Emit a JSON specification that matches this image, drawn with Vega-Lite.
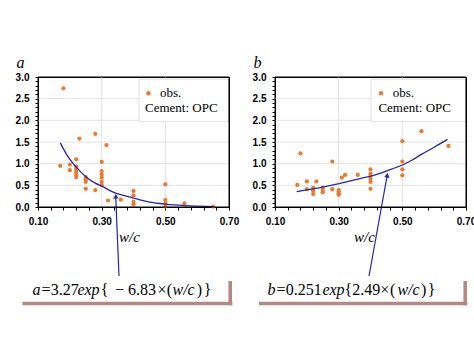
{
  "$schema": "https://vega.github.io/schema/vega-lite/v6.json",
  "padding": {"left": 14, "top": 54, "right": 0, "bottom": 0},
  "background": "white",
  "bounds": "flush",
  "spacing": 46,
  "config": {
    "view": {"stroke": "black", "strokeWidth": 1},
    "axis": {
      "labelFont": "Liberation Sans",
      "labelFontWeight": "bold",
      "labelFontSize": 10,
      "labelColor": "black",
      "labelOverlap": false,
      "labelFlush": false,
      "tickColor": "black",
      "tickSize": 3,
      "tickWidth": 1,
      "domain": false,
      "grid": false,
      "titleFont": "Liberation Serif",
      "titleFontStyle": "italic",
      "titleFontWeight": "normal",
      "titleColor": "black"
    }
  },
  "datasets": {
    "frame": [{"wc": 0.1, "wc2": 0.7, "v": 0, "v2": 3}],
    "grid": [
      {"wc": 0.3, "v": 0, "wc2": 0.3, "v2": 3},
      {"wc": 0.5, "v": 0, "wc2": 0.5, "v2": 3},
      {"wc": 0.1, "v": 0.5, "wc2": 0.7, "v2": 0.5},
      {"wc": 0.1, "v": 1.0, "wc2": 0.7, "v2": 1.0},
      {"wc": 0.1, "v": 1.5, "wc2": 0.7, "v2": 1.5},
      {"wc": 0.1, "v": 2.0, "wc2": 0.7, "v2": 2.0},
      {"wc": 0.1, "v": 2.5, "wc2": 0.7, "v2": 2.5}
    ],
    "obsA": [
      {"wc": 0.18, "v": 2.74}, {"wc": 0.17, "v": 0.95}, {"wc": 0.2, "v": 0.98}, {"wc": 0.2, "v": 0.85},
      {"wc": 0.22, "v": 1.1}, {"wc": 0.22, "v": 0.93}, {"wc": 0.22, "v": 0.87}, {"wc": 0.22, "v": 0.81},
      {"wc": 0.22, "v": 0.75}, {"wc": 0.22, "v": 0.69}, {"wc": 0.23, "v": 1.58},
      {"wc": 0.25, "v": 0.69}, {"wc": 0.25, "v": 0.64}, {"wc": 0.25, "v": 0.58}, {"wc": 0.25, "v": 0.42},
      {"wc": 0.28, "v": 1.69}, {"wc": 0.28, "v": 0.39},
      {"wc": 0.3, "v": 1.04}, {"wc": 0.3, "v": 0.83}, {"wc": 0.3, "v": 0.75}, {"wc": 0.3, "v": 0.68},
      {"wc": 0.3, "v": 0.58}, {"wc": 0.3, "v": 0.51},
      {"wc": 0.315, "v": 1.43}, {"wc": 0.32, "v": 0.15}, {"wc": 0.36, "v": 0.17},
      {"wc": 0.4, "v": 0.37}, {"wc": 0.4, "v": 0.27}, {"wc": 0.4, "v": 0.12}, {"wc": 0.4, "v": 0.06},
      {"wc": 0.5, "v": 0.52}, {"wc": 0.5, "v": 0.16}, {"wc": 0.5, "v": 0.085}, {"wc": 0.5, "v": 0.01},
      {"wc": 0.56, "v": 0.085}, {"wc": 0.65, "v": 0.01}
    ],
    "fitA": [
      {"wc": 0.17, "v": 1.48}, {"wc": 0.19, "v": 1.21}, {"wc": 0.219, "v": 0.93}, {"wc": 0.25, "v": 0.7},
      {"wc": 0.28, "v": 0.55}, {"wc": 0.3, "v": 0.48}, {"wc": 0.344, "v": 0.32}, {"wc": 0.39, "v": 0.23},
      {"wc": 0.44, "v": 0.13}, {"wc": 0.5, "v": 0.065}, {"wc": 0.56, "v": 0.032}, {"wc": 0.6, "v": 0.02},
      {"wc": 0.65, "v": 0.01}
    ],
    "obsB": [
      {"wc": 0.17, "v": 0.51}, {"wc": 0.18, "v": 1.24}, {"wc": 0.2, "v": 0.59}, {"wc": 0.2, "v": 0.41},
      {"wc": 0.22, "v": 0.44}, {"wc": 0.22, "v": 0.37}, {"wc": 0.22, "v": 0.3}, {"wc": 0.23, "v": 0.59},
      {"wc": 0.25, "v": 0.45}, {"wc": 0.25, "v": 0.39}, {"wc": 0.25, "v": 0.34},
      {"wc": 0.28, "v": 1.05}, {"wc": 0.28, "v": 0.41},
      {"wc": 0.3, "v": 0.39}, {"wc": 0.3, "v": 0.35}, {"wc": 0.3, "v": 0.31}, {"wc": 0.3, "v": 0.28},
      {"wc": 0.31, "v": 0.68}, {"wc": 0.32, "v": 0.74}, {"wc": 0.36, "v": 0.74},
      {"wc": 0.4, "v": 0.87}, {"wc": 0.4, "v": 0.77}, {"wc": 0.4, "v": 0.72}, {"wc": 0.4, "v": 0.65},
      {"wc": 0.4, "v": 0.58}, {"wc": 0.4, "v": 0.42},
      {"wc": 0.5, "v": 1.52}, {"wc": 0.5, "v": 1.05}, {"wc": 0.5, "v": 0.87}, {"wc": 0.5, "v": 0.73},
      {"wc": 0.56, "v": 1.75}, {"wc": 0.645, "v": 1.41}
    ],
    "fitB": [
      {"wc": 0.168, "v": 0.355}, {"wc": 0.2, "v": 0.395}, {"wc": 0.25, "v": 0.46}, {"wc": 0.29, "v": 0.52},
      {"wc": 0.33, "v": 0.59}, {"wc": 0.37, "v": 0.66}, {"wc": 0.41, "v": 0.73}, {"wc": 0.454, "v": 0.84},
      {"wc": 0.5, "v": 0.97}, {"wc": 0.53, "v": 1.08}, {"wc": 0.56, "v": 1.215}, {"wc": 0.6, "v": 1.38},
      {"wc": 0.642, "v": 1.56}
    ],
    "eqA": [
      {"wc": 0.0824, "v": -2.031, "t": "a", "part": "var"},
      {"wc": 0.1107, "v": -2.031, "t": "=", "part": "num"},
      {"wc": 0.1399, "v": -2.031, "t": "3.27", "part": "num"},
      {"wc": 0.2238, "v": -2.031, "t": "exp", "part": "var"},
      {"wc": 0.297, "v": -2.031, "t": "{", "part": "num"},
      {"wc": 0.3425, "v": -2.031, "t": "−", "part": "num"},
      {"wc": 0.3827, "v": -2.031, "t": "6.83", "part": "num"},
      {"wc": 0.4751, "v": -2.031, "t": "×", "part": "num"},
      {"wc": 0.5043, "v": -2.031, "t": "(", "part": "num"},
      {"wc": 0.5225, "v": -2.031, "t": "w/c", "part": "var"},
      {"wc": 0.5985, "v": -2.031, "t": ")", "part": "num"},
      {"wc": 0.621, "v": -2.031, "t": "}", "part": "num"}
    ],
    "eqB": [
      {"wc": 0.0761, "v": -2.031, "t": "b", "part": "var"},
      {"wc": 0.1044, "v": -2.031, "t": "=", "part": "num"},
      {"wc": 0.1336, "v": -2.031, "t": "0.251", "part": "num"},
      {"wc": 0.2489, "v": -2.031, "t": "exp", "part": "var"},
      {"wc": 0.318, "v": -2.031, "t": "{", "part": "num"},
      {"wc": 0.3425, "v": -2.031, "t": "2.49", "part": "num"},
      {"wc": 0.431, "v": -2.031, "t": "×", "part": "num"},
      {"wc": 0.4615, "v": -2.031, "t": "(", "part": "num"},
      {"wc": 0.4845, "v": -2.031, "t": "w/c", "part": "var"},
      {"wc": 0.5585, "v": -2.031, "t": ")", "part": "num"},
      {"wc": 0.58, "v": -2.031, "t": "}", "part": "num"}
    ],
    "legA": [
      {"wc": 0.4833, "v": 2.546, "t": "obs."},
      {"wc": 0.4361, "v": 2.199, "t": "Cement: OPC"}
    ],
    "legB": [
      {"wc": 0.4697, "v": 2.546, "t": "obs."},
      {"wc": 0.4248, "v": 2.199, "t": "Cement: OPC"}
    ],
    "dotA": [{"wc": 0.4468, "v": 2.624}],
    "dotB": [{"wc": 0.433, "v": 2.624}],
    "boxA": [{"wc": 0.4173, "wc2": 0.6981, "v": 2.947, "v2": 1.969}],
    "boxB": [{"wc": 0.4016, "wc2": 0.6981, "v": 2.947, "v2": 1.969}],
    "barA": [
      {"wc": 0.051, "v": -2.227, "wc2": 0.7107, "v2": -2.227},
      {"wc": 0.7038, "v": -1.708, "wc2": 0.7038, "v2": -2.268}
    ],
    "barB": [
      {"wc": 0.0497, "v": -2.227, "wc2": 0.7044, "v2": -2.227},
      {"wc": 0.6975, "v": -1.708, "wc2": 0.6975, "v2": -2.268}
    ],
    "arrA": [{"wc": 0.3544, "v": -1.592, "wc2": 0.344, "v2": 0.28}],
    "arrB": [{"wc": 0.3953, "v": -1.592, "wc2": 0.4532, "v2": 0.76}],
    "headA": [{"wc": 0.3443, "v": 0.245}],
    "headB": [{"wc": 0.4526, "v": 0.733}]
  },
  "hconcat": [
    {
      "width": 191,
      "height": 130,
      "encoding": {
        "x": {"field": "wc", "type": "quantitative", "scale": {"domain": [0.1, 0.7], "nice": false, "zero": false},
          "axis": {
            "values": [0.1, 0.14, 0.18, 0.22, 0.26, 0.3, 0.34, 0.38, 0.42, 0.46, 0.5, 0.54, 0.58, 0.62, 0.66, 0.7],
            "labelExpr": "abs(datum.value*10-round(datum.value*10))<0.001 ? format(datum.value,'.2f') : ''",
            "labelPadding": 6,
            "title": "w/c", "titleFontSize": 15, "titleX": 91, "titleY": 34, "titleBaseline": "alphabetic"
          }},
        "y": {"field": "v", "type": "quantitative", "scale": {"domain": [0, 3], "nice": false, "zero": false},
          "axis": {
            "values": [0, 0.1, 0.2, 0.3, 0.4, 0.5, 0.6, 0.7, 0.8, 0.9, 1, 1.1, 1.2, 1.3, 1.4, 1.5, 1.6, 1.7, 1.8, 1.9, 2, 2.1, 2.2, 2.3, 2.4, 2.5, 2.6, 2.7, 2.8, 2.9, 3],
            "labelExpr": "abs(datum.value*2-round(datum.value*2))<0.001 ? format(datum.value,'.1f') : ''",
            "labelPadding": 6,
            "title": "a", "titleFontSize": 16, "titleAngle": 0, "titleAlign": "left", "titleBaseline": "alphabetic", "titleX": -22, "titleY": -9.5
          }}
      },
      "layer": [
        {
          "data": {"name": "grid"},
          "mark": {"type": "rule", "color": "#e2e2e2", "strokeWidth": 1},
          "encoding": {"x2": {"field": "wc2"}, "y2": {"field": "v2"}}
        },
        {
          "data": {"name": "boxA"},
          "mark": {"type": "rect", "fill": "white", "stroke": "#d9d9d9", "strokeWidth": 0.8},
          "encoding": {"x2": {"field": "wc2"}, "y2": {"field": "v2"}}
        },
        {
          "data": {"name": "obsA"},
          "mark": {"type": "circle", "color": "#EA7A2C", "opacity": 1, "size": 18}
        },
        {
          "data": {"name": "fitA"},
          "mark": {"type": "line", "color": "#2525B0", "strokeWidth": 1.3, "interpolate": "monotone"}
        },
        {
          "data": {"name": "arrA"},
          "mark": {"type": "rule", "color": "#2525B0", "strokeWidth": 1.2},
          "encoding": {"x2": {"field": "wc2"}, "y2": {"field": "v2"}}
        },
        {
          "data": {"name": "headA"},
          "mark": {"type": "point", "shape": "triangle-up", "filled": true, "color": "#2525B0", "opacity": 1, "size": 28, "angle": -2.3}
        },
        {
          "data": {"name": "dotA"},
          "mark": {"type": "circle", "color": "#EA7A2C", "opacity": 1, "size": 20}
        },
        {
          "data": {"name": "legA"},
          "mark": {"type": "text", "font": "Liberation Serif", "fontSize": 13, "align": "left", "baseline": "alphabetic", "color": "black"},
          "encoding": {"text": {"field": "t"}}
        },
        {
          "data": {"name": "eqA"},
          "transform": [{"filter": "datum.part == 'num'"}],
          "mark": {"type": "text", "font": "Liberation Serif", "fontSize": 16, "align": "left", "baseline": "alphabetic", "color": "black"},
          "encoding": {"text": {"field": "t"}}
        },
        {
          "data": {"name": "eqA"},
          "transform": [{"filter": "datum.part == 'var'"}],
          "mark": {"type": "text", "font": "Liberation Serif", "fontStyle": "italic", "fontSize": 16, "align": "left", "baseline": "alphabetic", "color": "black"},
          "encoding": {"text": {"field": "t"}}
        },
        {
          "data": {"name": "barA"},
          "mark": {"type": "rule", "color": "#B48985", "strokeWidth": 3.6, "strokeCap": "butt"},
          "encoding": {"x2": {"field": "wc2"}, "y2": {"field": "v2"}}
        },
        {
          "data": {"name": "frame"},
          "mark": {"type": "rect", "filled": false, "stroke": "black", "strokeWidth": 1, "opacity": 1},
          "encoding": {"x2": {"field": "wc2"}, "y2": {"field": "v2"}}
        }
      ]
    },
    {
      "width": 191,
      "height": 130,
      "encoding": {
        "x": {"field": "wc", "type": "quantitative", "scale": {"domain": [0.1, 0.7], "nice": false, "zero": false},
          "axis": {
            "values": [0.1, 0.14, 0.18, 0.22, 0.26, 0.3, 0.34, 0.38, 0.42, 0.46, 0.5, 0.54, 0.58, 0.62, 0.66, 0.7],
            "labelExpr": "abs(datum.value*10-round(datum.value*10))<0.001 ? format(datum.value,'.2f') : ''",
            "labelPadding": 6,
            "title": "w/c", "titleFontSize": 15, "titleX": 89, "titleY": 34, "titleBaseline": "alphabetic"
          }},
        "y": {"field": "v", "type": "quantitative", "scale": {"domain": [0, 3], "nice": false, "zero": false},
          "axis": {
            "values": [0, 0.1, 0.2, 0.3, 0.4, 0.5, 0.6, 0.7, 0.8, 0.9, 1, 1.1, 1.2, 1.3, 1.4, 1.5, 1.6, 1.7, 1.8, 1.9, 2, 2.1, 2.2, 2.3, 2.4, 2.5, 2.6, 2.7, 2.8, 2.9, 3],
            "labelExpr": "abs(datum.value*2-round(datum.value*2))<0.001 ? format(datum.value,'.1f') : ''",
            "labelPadding": 6,
            "title": "b", "titleFontSize": 16, "titleAngle": 0, "titleAlign": "left", "titleBaseline": "alphabetic", "titleX": -22, "titleY": -9.5
          }}
      },
      "layer": [
        {
          "data": {"name": "grid"},
          "mark": {"type": "rule", "color": "#e2e2e2", "strokeWidth": 1},
          "encoding": {"x2": {"field": "wc2"}, "y2": {"field": "v2"}}
        },
        {
          "data": {"name": "boxB"},
          "mark": {"type": "rect", "fill": "white", "stroke": "#d9d9d9", "strokeWidth": 0.8},
          "encoding": {"x2": {"field": "wc2"}, "y2": {"field": "v2"}}
        },
        {
          "data": {"name": "obsB"},
          "mark": {"type": "circle", "color": "#EA7A2C", "opacity": 1, "size": 18}
        },
        {
          "data": {"name": "fitB"},
          "mark": {"type": "line", "color": "#2525B0", "strokeWidth": 1.3, "interpolate": "monotone"}
        },
        {
          "data": {"name": "arrB"},
          "mark": {"type": "rule", "color": "#2525B0", "strokeWidth": 1.2},
          "encoding": {"x2": {"field": "wc2"}, "y2": {"field": "v2"}}
        },
        {
          "data": {"name": "headB"},
          "mark": {"type": "point", "shape": "triangle-up", "filled": true, "color": "#2525B0", "opacity": 1, "size": 28, "angle": 10.3}
        },
        {
          "data": {"name": "dotB"},
          "mark": {"type": "circle", "color": "#EA7A2C", "opacity": 1, "size": 20}
        },
        {
          "data": {"name": "legB"},
          "mark": {"type": "text", "font": "Liberation Serif", "fontSize": 13, "align": "left", "baseline": "alphabetic", "color": "black"},
          "encoding": {"text": {"field": "t"}}
        },
        {
          "data": {"name": "eqB"},
          "transform": [{"filter": "datum.part == 'num'"}],
          "mark": {"type": "text", "font": "Liberation Serif", "fontSize": 16, "align": "left", "baseline": "alphabetic", "color": "black"},
          "encoding": {"text": {"field": "t"}}
        },
        {
          "data": {"name": "eqB"},
          "transform": [{"filter": "datum.part == 'var'"}],
          "mark": {"type": "text", "font": "Liberation Serif", "fontStyle": "italic", "fontSize": 16, "align": "left", "baseline": "alphabetic", "color": "black"},
          "encoding": {"text": {"field": "t"}}
        },
        {
          "data": {"name": "barB"},
          "mark": {"type": "rule", "color": "#B48985", "strokeWidth": 3.6, "strokeCap": "butt"},
          "encoding": {"x2": {"field": "wc2"}, "y2": {"field": "v2"}}
        },
        {
          "data": {"name": "frame"},
          "mark": {"type": "rect", "filled": false, "stroke": "black", "strokeWidth": 1, "opacity": 1},
          "encoding": {"x2": {"field": "wc2"}, "y2": {"field": "v2"}}
        }
      ]
    }
  ]
}
